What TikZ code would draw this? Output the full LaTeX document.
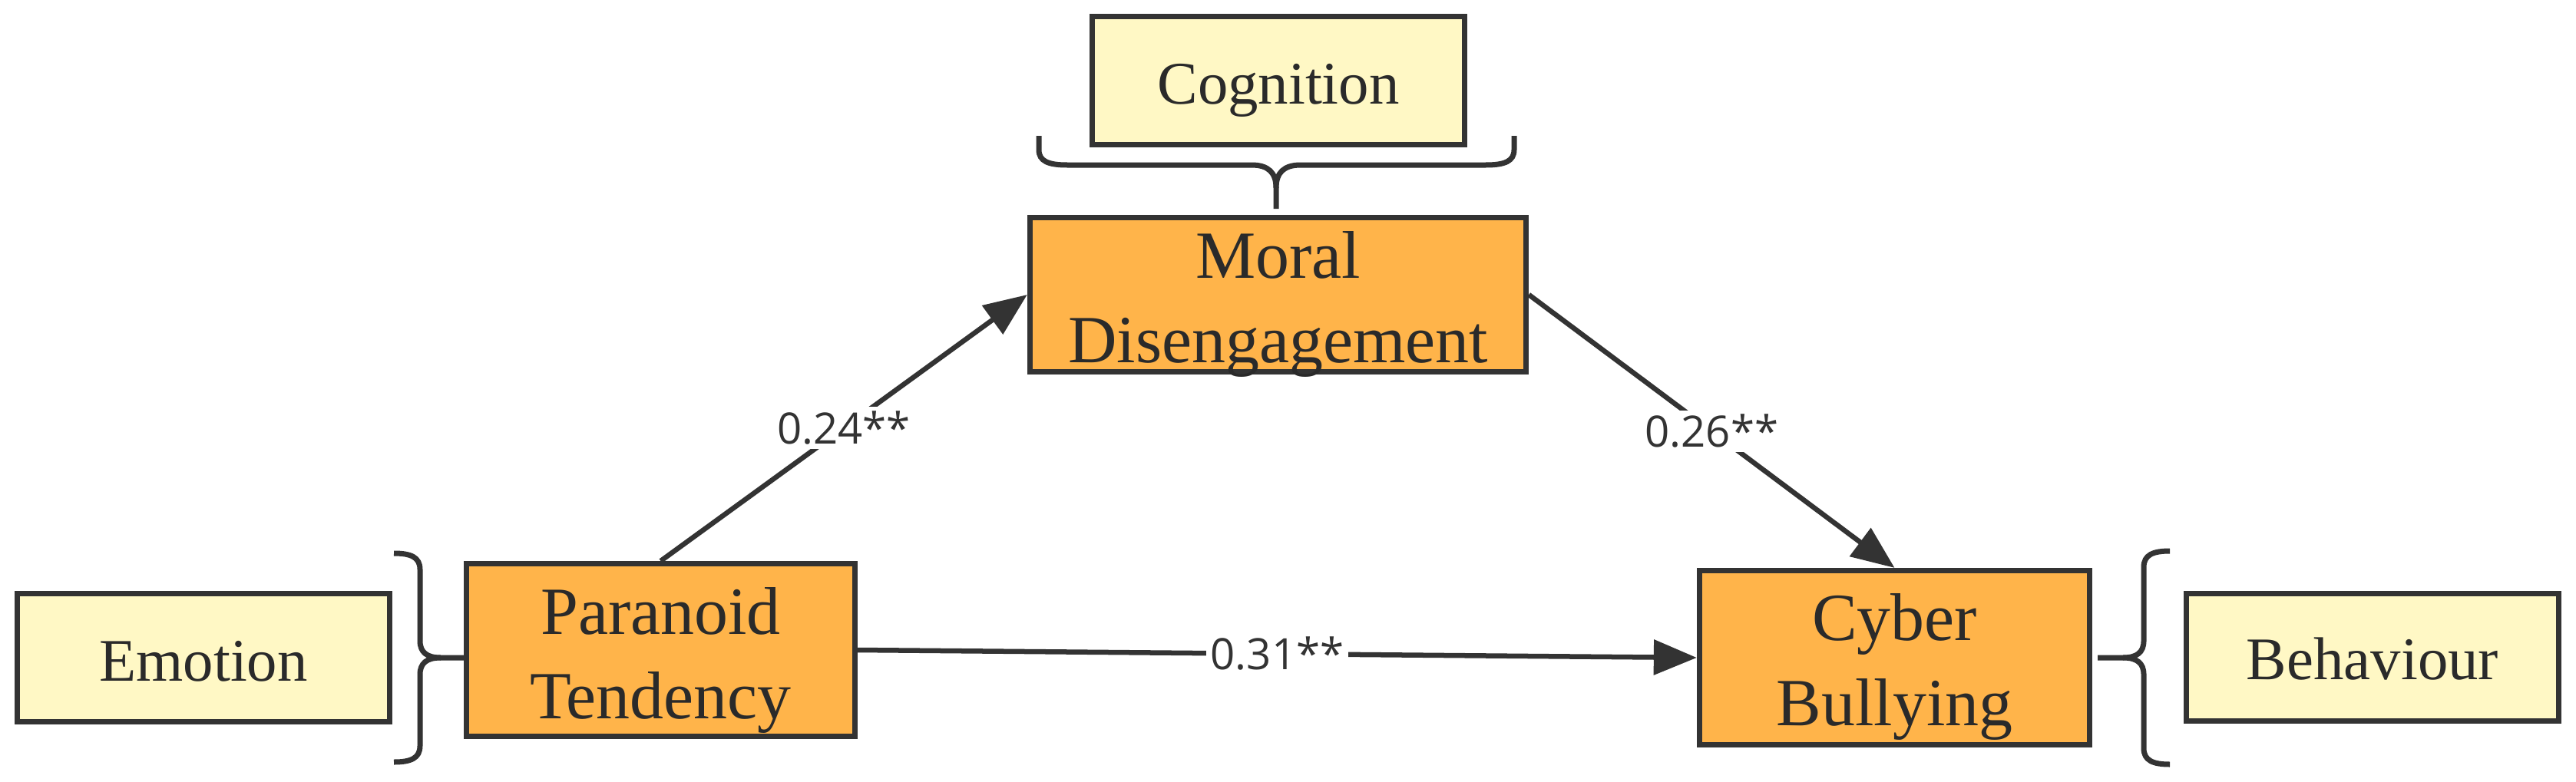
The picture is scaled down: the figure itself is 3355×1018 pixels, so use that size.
\documentclass[tikz,border=0pt]{standalone}
\usepackage{fontspec}
\setmainfont{Liberation Serif}
\newfontfamily\labelfont{Open Sans}
\usetikzlibrary{arrows.meta}
\definecolor{orangefill}{HTML}{FFB44A}
\definecolor{yellowfill}{HTML}{FFF8C5}
\definecolor{ink}{HTML}{333333}
\definecolor{txt}{HTML}{2A2A2A}
\begin{document}
\begin{tikzpicture}[x=0.01cm,y=-0.01cm,
  box/.style={draw=ink, line width=0.07cm, inner sep=0pt},
  ybox/.style={box, fill=yellowfill, minimum width=4.84cm, minimum height=1.66cm},
  obox/.style={box, fill=orangefill},
  otext/.style={anchor=base, inner sep=0pt, text=txt, font=\fontsize{25pt}{31pt}\selectfont},
  ytext/.style={anchor=base, inner sep=0pt, text=txt, font=\fontsize{22.4pt}{28pt}\selectfont},
  brace/.style={draw=ink, line width=0.07cm},
  conn/.style={draw=ink, line width=0.065cm, -{Triangle[length=5.6mm,width=4.5mm]}},
  lbl/.style={fill=white, inner sep=1.5pt, text=ink, font=\labelfont\fontsize{16pt}{19pt}\selectfont}
]
\useasboundingbox (0,0) rectangle (3355,1018);

% boxes
\node[ybox] (cog) at (1665,105) {};
\node[ybox] (emo) at (265,857) {};
\node[ybox] (beh) at (3090,856.5) {};
\node[obox, minimum width=6.46cm, minimum height=2.01cm] (moral) at (1664.5,384) {};
\node[obox, minimum width=5.06cm, minimum height=2.25cm] (para) at (860.5,847) {};
\node[obox, minimum width=5.08cm, minimum height=2.27cm] (cyber) at (2467.5,857) {};

% texts
\node[ytext] (cogt) at (1665,135) {Cognition};
\node[ytext] (emot) at (265,887) {Emotion};
\node[ytext] (beht) at (3090,885) {Behaviour};
\node[otext] (moralt1) at (1664.5,362) {Moral};
\node[otext] (moralt2) at (1664.5,472) {Disengagement};
\node[otext] (parat1) at (860.5,826) {Paranoid};
\node[otext] (parat2) at (860.5,936) {Tendency};
\node[otext] (cybert1) at (2467.5,834) {Cyber};
\node[otext] (cybert2) at (2467.5,945) {Bullying};

% braces
\draw[brace] (1353,177) -- (1353,195) .. controls (1353,210) and (1365,215) .. (1390,215) -- (1630,215) .. controls (1652,215) and (1662,225) .. (1662,245) -- (1662,272);
\draw[brace] (1972,177) -- (1972,195) .. controls (1972,210) and (1960,215) .. (1935,215) -- (1694,215) .. controls (1672,215) and (1662,225) .. (1662,245);

\draw[brace] (513,721) .. controls (535,721) and (547,726) .. (547,742) -- (547,835) .. controls (547,850) and (556,857) .. (574,857) -- (604,857);
\draw[brace] (513,993) .. controls (535,993) and (547,988) .. (547,972) -- (547,879) .. controls (547,864) and (556,857) .. (574,857);

\draw[brace] (2826,718) .. controls (2804,718) and (2792,723) .. (2792,739) -- (2792,835) .. controls (2792,850) and (2783,857) .. (2765,857) -- (2732,857);
\draw[brace] (2826,996) .. controls (2804,996) and (2792,991) .. (2792,975) -- (2792,879) .. controls (2792,864) and (2783,857) .. (2765,857);

% connectors
\draw[conn] (para.north) -- node[lbl] {0.24**} (moral.west);
\draw[conn] (moral.east) -- node[lbl] {0.26**} (cyber.north);
\draw[conn] (para.east) -- node[lbl] {0.31**} (cyber.west);
\end{tikzpicture}
\end{document}
